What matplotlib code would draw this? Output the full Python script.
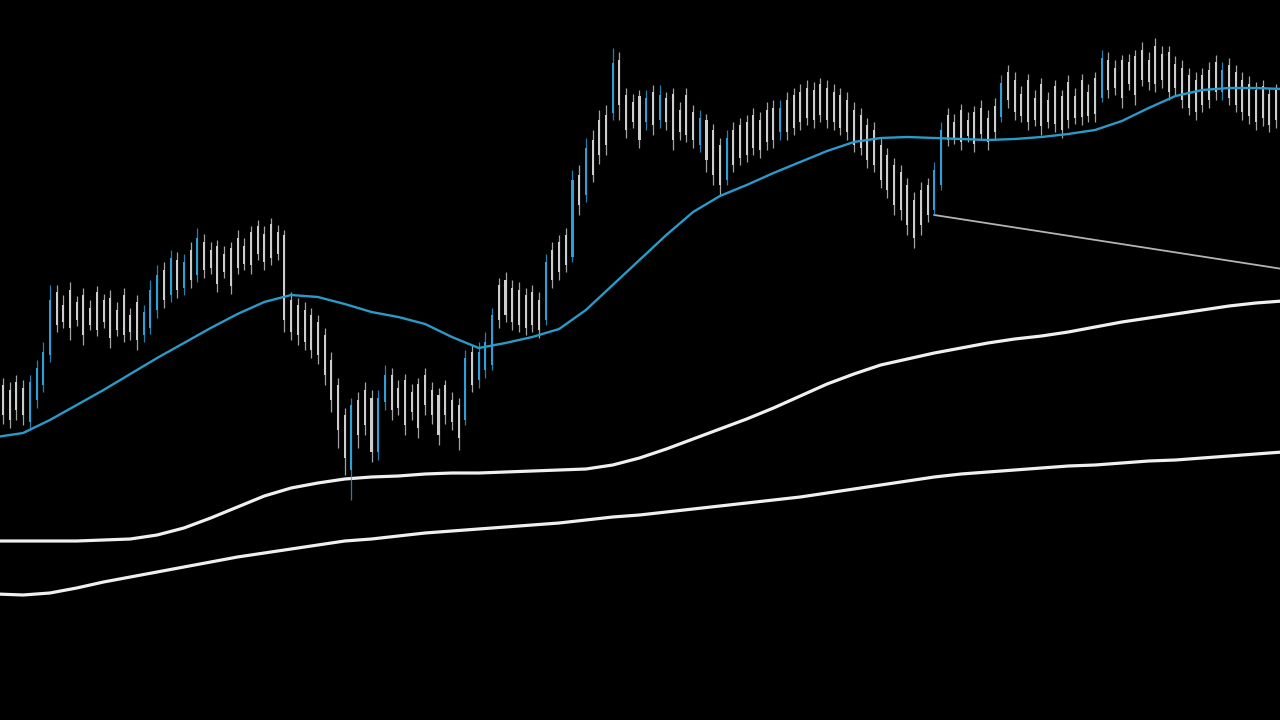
import pandas as pd
import matplotlib.pyplot as plt

# velas (preço em unidades arbitrárias)
abertura = [
    335, 330, 338, 332, 298, 320, 335, 365, 428, 415,
    430, 418, 425, 412, 428, 420, 422, 410, 425, 405,
    418, 385, 392, 410, 450, 425, 460, 432, 470, 445,
    478, 470, 474, 466, 472, 482, 474, 488, 494, 486,
    496, 488, 485, 420, 415, 410, 405, 398, 385, 360,
    335, 305, 250, 320, 330, 322, 268, 318, 345, 332,
    340, 328, 336, 345, 330, 325, 335, 320, 315, 300,
    368, 340, 350, 355, 435, 440, 432, 430, 425, 428,
    420, 400, 470, 478, 485, 463, 545, 525, 580, 600,
    605, 607, 660, 625, 618, 624, 598, 628, 600, 622,
    626, 610, 625, 608, 575, 600, 590, 575, 540, 590,
    595, 598, 605, 600, 610, 612, 588, 620, 625, 628,
    632, 630, 636, 632, 628, 625, 620, 610, 605, 595,
    590, 575, 565, 555, 548, 535, 520, 530, 535, 510,
    535, 605, 598, 610, 600, 608, 612, 602, 614, 603,
    648, 640, 626, 640, 622, 636, 620, 634, 624, 638,
    624, 640, 628, 642, 622, 660, 652, 660, 658, 664,
    670, 660, 674, 666, 668, 656, 652, 645, 640, 645,
    650, 658, 628, 655, 648, 640, 636, 630, 634, 626,
    630,
]
fechamento = [
    305, 300, 310, 305, 338, 352, 368, 420, 395, 398,
    392, 400, 385, 395, 390, 398, 382, 390, 385, 388,
    380, 408, 430, 445, 420, 462, 430, 458, 440, 482,
    450, 452, 436, 448, 434, 452, 456, 455, 466, 458,
    462, 466, 400, 388, 385, 378, 370, 365, 345, 320,
    290, 262, 315, 285, 295, 268, 322, 345, 310, 312,
    295, 308, 292, 315, 305, 285, 305, 298, 282, 362,
    335, 368, 378, 405, 400, 405, 398, 395, 392, 395,
    390, 458, 440, 448, 455, 540, 515, 572, 545, 565,
    575, 657, 615, 590, 598, 580, 622, 595, 625, 598,
    580, 588, 585, 580, 602, 560, 545, 535, 582, 555,
    562, 565, 572, 570, 578, 580, 612, 588, 592, 598,
    602, 600, 605, 600, 598, 592, 588, 575, 572, 560,
    555, 540, 530, 515, 510, 495, 482, 495, 505, 550,
    590, 580, 582, 578, 584, 576, 586, 578, 588, 637,
    620, 608, 604, 598, 600, 594, 598, 596, 590, 600,
    602, 603, 604, 606, 662, 630, 632, 622, 636, 625,
    640, 638, 636, 640, 628, 632, 620, 612, 608, 615,
    620, 628, 650, 622, 615, 608, 604, 598, 602, 595,
    600,
]
maxima = [
    342, 338, 345, 340, 345, 360, 378, 435, 435, 425,
    438, 424, 432, 420, 434, 426, 430, 418, 432, 412,
    425, 415, 440, 455, 458, 470, 468, 466, 478, 492,
    486, 478, 480, 474, 478, 490, 482, 494, 500, 494,
    502, 495, 490, 428, 422, 418, 412, 405, 392, 368,
    342, 312, 322, 328, 338, 330, 330, 355, 352, 340,
    346, 336, 342, 352, 338, 332, 340, 328, 322, 370,
    375, 378, 388, 412, 442, 448, 440, 438, 432, 435,
    428, 466, 478, 485, 492, 550, 555, 582, 590, 610,
    615, 672, 668, 632, 626, 630, 630, 635, 635, 628,
    632, 618, 632, 615, 610, 606, 596, 582, 590, 598,
    602, 605, 612, 608, 618, 620, 620, 628, 632, 636,
    640, 638, 642, 640, 636, 632, 628, 618, 612, 602,
    598, 582, 572, 562, 555, 542, 528, 538, 542, 558,
    598, 612, 606, 616, 608, 614, 620, 610, 622, 645,
    655, 648, 634, 646, 630, 642, 628, 640, 630, 645,
    632, 646, 636, 648, 670, 668, 660, 665, 666, 670,
    678, 668, 682, 674, 674, 664, 660, 652, 648, 652,
    658, 665, 658, 662, 655, 648, 644, 638, 640, 632,
    636,
]
minimas = [
    296, 292, 300, 295, 290, 312, 328, 358, 388, 392,
    380, 394, 375, 390, 384, 392, 372, 384, 378, 380,
    370, 378, 386, 402, 412, 418, 422, 425, 432, 438,
    442, 446, 428, 442, 426, 446, 450, 446, 460, 450,
    455, 460, 388, 380, 375, 370, 362, 356, 335, 308,
    272, 245, 220, 272, 285, 258, 260, 310, 300, 305,
    285, 300, 282, 305, 296, 275, 296, 290, 270, 295,
    328, 332, 342, 350, 392, 398, 390, 388, 385, 388,
    382, 395, 432, 440, 448, 458, 505, 518, 538, 556,
    565, 600, 600, 582, 592, 572, 590, 585, 592, 590,
    570, 580, 578, 572, 568, 548, 535, 525, 535, 548,
    555, 558, 565, 562, 570, 572, 580, 580, 585, 590,
    595, 592, 598, 592, 590, 585, 580, 568, 565, 552,
    548, 532, 522, 505, 500, 485, 472, 485, 498, 505,
    530, 574, 576, 570, 578, 568, 580, 570, 580, 598,
    612, 600, 598, 590, 594, 585, 592, 588, 582, 592,
    596, 595, 598, 598, 618, 622, 625, 612, 630, 615,
    634, 630, 628, 632, 620, 625, 612, 605, 600, 608,
    612, 620, 620, 615, 608, 600, 596, 590, 594, 588,
    592,
]
velas_azuis = [4, 5, 6, 7, 21, 22, 23, 25, 27, 29, 52, 56, 57, 69, 71, 72, 73, 81, 85, 87,
               91, 96, 98, 104, 108, 116, 139, 140, 149, 164, 182]

# médias móveis (amostradas a cada 4 velas)
idx_media = [-1, 3, 7, 11, 15, 19, 23, 27, 31, 35, 39, 43, 47, 51, 55, 59, 63, 67, 71, 75,
             79, 83, 87, 91, 95, 99, 103, 107, 111, 115, 119, 123, 127, 131, 135, 139, 143, 147, 151, 155,
             159, 163, 167, 171, 175, 179, 183, 187, 191]
media_curta = [283, 287, 300, 315, 330, 346, 362, 377, 392, 406, 418, 425, 423, 416, 408, 403, 396, 383, 372, 377,
               383, 391, 410, 435, 460, 485, 508, 524, 535, 547, 558, 569, 578, 582, 583, 582, 581, 580, 581, 583,
               586, 590, 599, 612, 624, 630, 632, 632, 631]
media_media = [179, 179, 179, 179, 180, 181, 185, 192, 202, 213, 224, 232, 237, 241, 243, 244, 246, 247, 247, 248,
               249, 250, 251, 255, 262, 271, 281, 291, 301, 312, 324, 336, 346, 355, 361, 367, 372, 377, 381, 384,
               388, 393, 398, 402, 406, 410, 414, 417, 419]
media_longa = [126, 125, 127, 132, 138, 143, 148, 153, 158, 163, 167, 171, 175, 179, 181, 184, 187, 189, 191, 193,
               195, 197, 200, 203, 205, 208, 211, 214, 217, 220, 223, 227, 231, 235, 239, 243, 246, 248, 250, 252,
               254, 255, 257, 259, 260, 262, 264, 266, 268]

# linha de tendência
tendencia_x = [139, 191]
tendencia_y = [505, 451]

df = pd.DataFrame({'abertura': abertura, 'fechamento': fechamento,
                   'maxima': maxima, 'minima': minimas})
df['cor'] = '#cdcdcd'
df.loc[velas_azuis, 'cor'] = '#2f9fd8'
df['base'] = df[['abertura', 'fechamento']].min(axis=1)
df['altura'] = (df['fechamento'] - df['abertura']).abs()

fig = plt.figure(figsize=(12.8, 7.2), dpi=100, facecolor='black')
ax = fig.add_axes([0, 0, 1, 1])
ax.set_facecolor('black')

# médias brancas e tendência
ax.plot(idx_media, media_longa, color='#f0f0f0', linewidth=2.3, solid_joinstyle='round', zorder=2)
ax.plot(idx_media, media_media, color='#f0f0f0', linewidth=2.3, solid_joinstyle='round', zorder=2)
ax.plot(tendencia_x, tendencia_y, color='#b4b4b4', linewidth=1.3, zorder=2)

# pavios e corpos
ax.vlines(df.index, df['minima'], df['maxima'], colors=df['cor'], linewidth=0.9, alpha=0.8, zorder=3)
ax.bar(df.index, df['altura'], bottom=df['base'], width=0.3, color=df['cor'], linewidth=0, zorder=4)

ax.plot(idx_media, media_curta, color='#2a9bc9', linewidth=1.7, solid_joinstyle='round', zorder=5)

ax.set_xlim(-0.45, 190.6)
ax.set_ylim(0, 720)
ax.axis('off')

plt.savefig('out.png', dpi=100, facecolor='black')
